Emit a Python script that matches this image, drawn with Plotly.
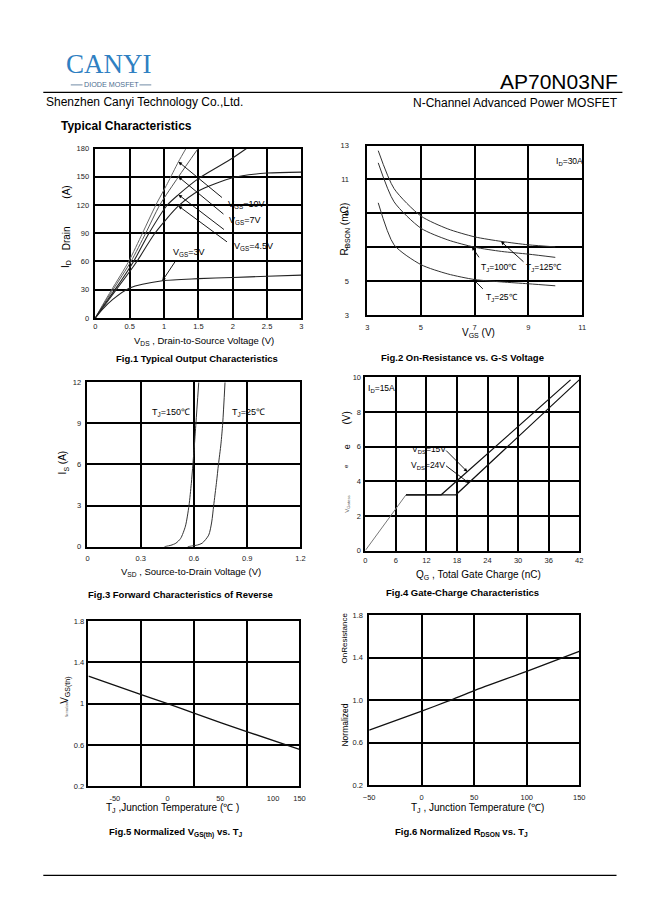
import plotly.graph_objects as go

W, H = 650, 921
FONT = "Liberation Sans, Arial, sans-serif"

# ---------------- Fig.1 Typical Output Characteristics ----------------
vds_a = [0, 0.1, 0.238, 0.486, 0.686, 0.881, 1.05, 1.21, 1.319]
id_a = [0, 13, 30, 60, 90, 120, 143, 166, 180]
vds_b = [0, 0.1, 0.257, 0.519, 0.733, 0.938, 1.21, 1.495]
id_b = [0, 12, 30, 60, 90, 120, 150, 180]
vds_c = [0, 0.1, 0.286, 0.557, 0.781, 1.048, 1.21, 1.5, 2.0, 2.2]
id_c = [0, 11, 30, 60, 90, 120, 131, 148, 170, 180]
vds_d = [0, 0.1, 0.305, 0.605, 0.867, 1.21, 1.5, 2.0, 2.5, 3.0]
id_d = [0, 10, 30, 60, 90, 119, 135, 149, 154, 155]
vds_3v = [0, 0.1, 0.25, 0.5, 0.976, 1.5, 2.0, 2.5, 3.0]
id_3v = [0, 8.8, 19.4, 31.8, 39.5, 41.7, 43, 44.3, 45.5]
fig1_xticks = [0, 0.5, 1, 1.5, 2, 2.5, 3]
fig1_yticks = [0, 30, 60, 90, 120, 150, 180]

# ---------------- Fig.2 On-Resistance vs. G-S Voltage ----------------
vgs = [3.41, 4.0, 5.0, 6.0, 7.0, 8.0, 9.0, 10.0]
rds_125 = [12.7, 10.46, 8.84, 8.08, 7.61, 7.34, 7.14, 7.02]
rds_100 = [11.98, 9.68, 8.12, 7.43, 7.0, 6.75, 6.59, 6.40]
rds_25 = [9.62, 7.14, 5.97, 5.42, 5.09, 4.95, 4.84, 4.72]

# ---------------- Fig.3 Forward Characteristics of Reverse ----------------
vsd_150 = [0.434, 0.47, 0.498, 0.525, 0.552, 0.572, 0.585, 0.594, 0.603, 0.611, 0.627]
is_150 = [0, 0.1, 0.25, 0.6, 1.5, 3.0, 4.6, 6.0, 7.5, 9.0, 12]
vsd_25 = [0.565, 0.62, 0.646, 0.683, 0.70, 0.711, 0.727, 0.738, 0.752, 0.762, 0.775]
is_25 = [0, 0.12, 0.25, 0.84, 1.8, 3.0, 4.7, 6.0, 7.5, 9.0, 12]

# ---------------- Fig.4 Gate-Charge Characteristics ----------------
qg_common = [0, 8.0]
vg_common = [0, 3.22]
qg_15 = [8.0, 14.9, 40.3]
vg_15 = [3.22, 3.22, 9.85]
qg_24 = [8.0, 17.8, 42.0]
vg_24 = [3.22, 3.22, 9.85]

# ---------------- Fig.5 Normalized VGS(th) vs TJ ----------------
tj5 = [-75, -25, 0, 25, 75, 125]
vth5 = [1.265, 1.087, 1.0, 0.907, 0.729, 0.557]
fig5_tickvals = [-50, 0, 50, 100, 125]
fig5_ticktext = ["-50", "0", "50", "100", "150"]
fig5_grid = [-25, 25, 75]

# ---------------- Fig.6 Normalized RDSON vs TJ ----------------
tj6 = [-50, 0, 25, 50, 100, 150]
rn6 = [0.717, 0.897, 0.99, 1.09, 1.271, 1.457]

fig = go.Figure()


def ax_name(i, kind):
    return kind if i == 1 else f"{kind}{i}"


def add_line(xs, ys, i, color="#222", width=1.0, shape="spline"):
    fig.add_trace(go.Scatter(
        x=xs, y=ys, mode="lines",
        line=dict(color=color, width=width, shape=shape, smoothing=0.7),
        xaxis=ax_name(i, "x"), yaxis=ax_name(i, "y"),
        showlegend=False, hoverinfo="skip"))


add_line(vds_a, id_a, 1, "#666", 1.0)
add_line(vds_b, id_b, 1, "#555", 1.0)
add_line(vds_c, id_c, 1, "#222", 1.1)
add_line(vds_d, id_d, 1, "#222", 1.1)
add_line(vds_3v, id_3v, 1, "#222", 1.1)

add_line(vgs, rds_125, 2, "#333", 1.0)
add_line(vgs, rds_100, 2, "#333", 1.0)
add_line(vgs, rds_25, 2, "#333", 1.0)

add_line(vsd_150, is_150, 3, "#333", 1.0)
add_line(vsd_25, is_25, 3, "#333", 1.0)

add_line(qg_common, vg_common, 4, "#777", 1.0, "linear")
add_line(qg_15, vg_15, 4, "#111", 1.2, "linear")
add_line(qg_24, vg_24, 4, "#111", 1.2, "linear")

add_line(tj5, vth5, 5, "#111", 1.3)
add_line(tj6, rn6, 6, "#111", 1.3)


def dom_x(x0, x1):
    return [x0 / W, x1 / W]


def dom_y(y0, y1):
    return [1 - y1 / H, 1 - y0 / H]


def axis(domain, rng, i, kind, dtick=None, tickvals=None, ticktext=None,
         standoff=0, showgrid=True, minor_vals=None, fmt=None):
    d = dict(
        domain=domain, range=rng, anchor=ax_name(i, "y" if kind == "x" else "x"),
        showline=True, linecolor="black", linewidth=1.5, mirror=True,
        showgrid=showgrid, gridcolor="black", gridwidth=1.5,
        zeroline=False, ticks="", ticklabelstandoff=standoff,
        tickfont=dict(family=FONT, size=7.5, color="#222"),
        fixedrange=True,
    )
    if dtick is not None:
        d.update(tickmode="linear", tick0=rng[0], dtick=dtick)
    if tickvals is not None:
        d.update(tickmode="array", tickvals=tickvals,
                 ticktext=ticktext if ticktext else [str(v) for v in tickvals])
    if minor_vals is not None:
        d["minor"] = dict(tickmode="array", tickvals=minor_vals, showgrid=True,
                          gridcolor="black", gridwidth=1.5, ticks="")
    if fmt:
        d["tickformat"] = fmt
    return d


layout = dict(
    width=W, height=H, margin=dict(l=0, r=0, t=0, b=0),
    paper_bgcolor="white", plot_bgcolor="white", showlegend=False,
    xaxis=axis(dom_x(91, 301), [0, 3], 1, "x", tickvals=fig1_xticks, standoff=0),
    yaxis=axis(dom_y(146, 317), [0, 180], 1, "y", tickvals=fig1_yticks, standoff=3),
    xaxis2=axis(dom_x(368, 587), [3, 11], 2, "x", dtick=2, standoff=4),
    yaxis2=axis(dom_y(143, 314), [3, 13], 2, "y", dtick=2, standoff=15),
    xaxis3=axis(dom_x(83, 300), [0, 1.2], 3, "x", dtick=0.3, standoff=4),
    yaxis3=axis(dom_y(382, 548), [0, 12], 3, "y", dtick=3, standoff=3),
    xaxis4=axis(dom_x(366, 584), [0, 42], 4, "x", dtick=6, standoff=2),
    yaxis4=axis(dom_y(377, 552), [0, 10], 4, "y", dtick=2, standoff=1),
    xaxis5=axis(dom_x(84, 299), [-75, 125], 5, "x", tickvals=fig5_tickvals,
                ticktext=fig5_ticktext, standoff=4, showgrid=False, minor_vals=fig5_grid),
    yaxis5=axis(dom_y(623, 790), [0.2, 1.8], 5, "y", dtick=0.4, standoff=1),
    xaxis6=axis(dom_x(370, 584), [-50, 150], 6, "x", dtick=50, standoff=4),
    yaxis6=axis(dom_y(617, 789), [0.2, 1.8], 6, "y", dtick=0.4, standoff=3, fmt=".1f"),
)

ann = []


def text(x, y, s, size=9.5, bold=False, angle=0, xanchor="center", color="black", family=FONT):
    ann.append(dict(x=x / W, y=1 - y / H, xref="paper", yref="paper",
                    text=f"<b>{s}</b>" if bold else s, showarrow=False,
                    font=dict(size=size, family=family, color=color),
                    textangle=angle, xanchor=xanchor, yanchor="middle"))


def arrow(i, x, y, ax, ay, head=2):
    ann.append(dict(x=x, y=y, xref=ax_name(i, "x"), yref=ax_name(i, "y"),
                    ax=ax, ay=ay, text="", showarrow=True, arrowhead=head,
                    arrowsize=0.8, arrowwidth=0.9, arrowcolor="black"))


# Header
text(105, 60.5, "CANYI", size=27, family="Liberation Serif, Times New Roman, serif", color="#2f80c2")
text(107, 81.5, "DIODE MOSFET", size=7.2, color="#4d6d8f")
text(626, 78, "AP70N03NF", size=21, xanchor="right")
text(39, 98.5, "Shenzhen Canyi Technology Co.,Ltd.", size=12, xanchor="left")
text(626, 100, "N-Channel Advanced Power MOSFET", size=12, xanchor="right")
text(54, 123.5, "Typical Characteristics", size=12, bold=True, xanchor="left")

# Fig.1
text(201.7, 340.7, "V<sub>DS</sub> , Drain-to-Source Voltage (V)", size=9.5)
text(194.5, 357.5, "Fig.1 Typical Output Characteristics", size=9.5, bold=True)
text(61.7, 263, "I<sub>D</sub>", size=10, angle=-90)
text(61.7, 237, "Drain", size=10, angle=-90)
text(61.7, 190, "(A)", size=10, angle=-90)
text(245, 202, "V<sub>GS</sub>=10V", size=9)
text(243, 218.5, "V<sub>GS</sub>=7V", size=9)
text(252, 245, "V<sub>GS</sub>=4.5V", size=9)
text(185.5, 250.7, "V<sub>GS</sub>=3V", size=9)
arrow(1, 1.21, 166, 45, 37)
arrow(1, 1.21, 150, 46.5, 38.5)
arrow(1, 1.21, 131, 47, 36)
arrow(1, 1.21, 119, 50, 37)
arrow(1, 0.976, 39.5, 14, -21)

# Fig.2
text(345, 227, "R<sub>DSON</sub> (mΩ)", size=10, angle=-90)
text(481, 332.5, "V<sub>GS</sub> (V)", size=10)
text(465, 356.5, "Fig.2 On-Resistance vs. G-S Voltage", size=9.5, bold=True)
text(574, 159, "I<sub>D</sub>=30A", size=8.5)
text(502.5, 266, "T<sub>J</sub>=100℃", size=8.5)
text(548.5, 266, "T<sub>J</sub>=125℃", size=8.5)
text(505, 296.7, "T<sub>J</sub>=25℃", size=8.5)
arrow(2, 6.9, 7.02, 8, 12)
arrow(2, 7.98, 7.34, 24, 21.7)
arrow(2, 6.95, 5.1, 11, 11)

# Fig.3
text(59, 463, "I<sub>S</sub> (A)", size=10, angle=-90)
text(188.3, 573.3, "V<sub>SD</sub> , Source-to-Drain Voltage (V)", size=9.5)
text(178, 596.5, "Fig.3 Forward Characteristics of Reverse", size=9.5, bold=True)
text(168.5, 412.7, "T<sub>J</sub>=150℃", size=9)
text(247.5, 412.7, "T<sub>J</sub>=25℃", size=9)

# Fig.4
text(347, 418, "(V)", size=10, angle=-90)
text(347, 447, "e", size=9, angle=-90)
text(347, 467, "e", size=6, angle=-90)
text(347, 505, "V<sub>Gatess</sub>", size=6, angle=-90, color="#555")
text(382.5, 388, "I<sub>D</sub>=15A", size=8.5)
text(430.5, 450, "V<sub>DS</sub>=15V", size=8.5)
text(430, 465.7, "V<sub>DS</sub>=24V", size=8.5)
arrow(4, 20.04, 4.55, -22.7, -22.7)
arrow(4, 20.36, 3.90, -24.4, -18.3)
text(481.7, 576.7, "Q<sub>G</sub> , Total Gate Charge (nC)", size=10)
text(465, 594.5, "Fig.4 Gate-Charge Characteristics", size=9.5, bold=True)

# Fig.5
text(60.7, 693, "V<sub>GS(th)</sub>", size=10, angle=-90)
text(62, 712, "Normalized", size=3, angle=-90, color="#666")
text(170, 811.7, "T<sub>J</sub> ,Junction Temperature (℃ )", size=10)
text(173, 837, "Fig.5 Normalized V<sub>GS(th)</sub> vs. T<sub>J</sub>", size=9.5, bold=True)

# Fig.6
text(345, 640, "OnResistance", size=8, angle=-90)
text(345, 728, "Normalized", size=8.5, angle=-90)
text(480, 811.7, "T<sub>J</sub> , Junction Temperature (℃)", size=10)
text(464.5, 836.5, "Fig.6 Normalized R<sub>DSON</sub> vs. T<sub>J</sub>", size=9.5, bold=True)

layout["annotations"] = ann


def hline(y, x0, x1, color="black", width=1.2):
    return dict(type="line", xref="paper", yref="paper",
                x0=x0 / W, x1=x1 / W, y0=1 - y / H, y1=1 - y / H,
                line=dict(color=color, width=width))


layout["shapes"] = [
    hline(89.3, 38, 628),
    hline(880, 38, 622),
    hline(81.7, 66, 78, "#4d6d8f", 0.8),
    hline(81.7, 136, 148, "#4d6d8f", 0.8),
]

fig.update_layout(**layout)
fig.write_html(
    "out.html",
    config={"displayModeBar": False},
    post_script="document.body.style.margin='0px';document.body.style.overflow='hidden';",
)
